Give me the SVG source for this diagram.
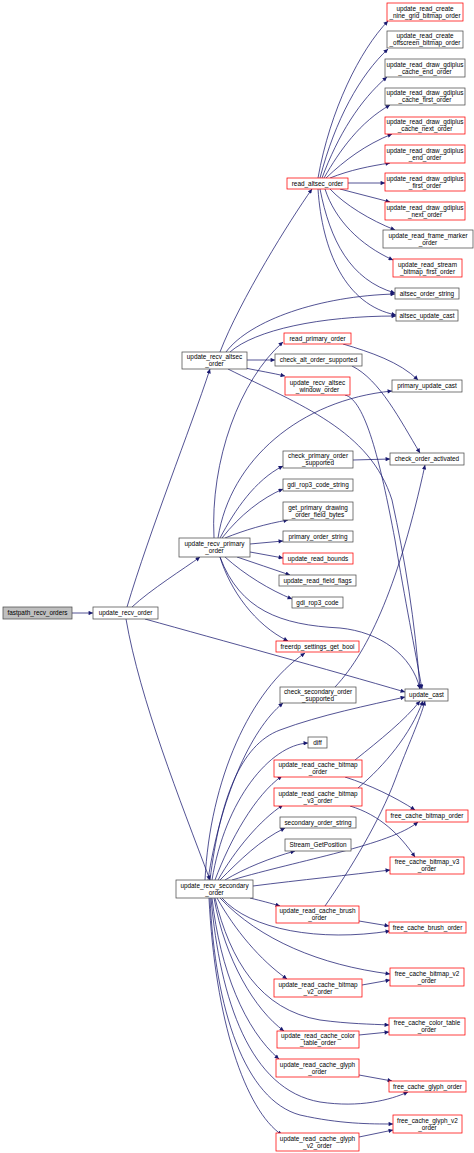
<svg xmlns="http://www.w3.org/2000/svg" width="474" height="1153" viewBox="0 0 474 1153">
<defs>
<marker id="a" viewBox="0 0 10 10" refX="10" refY="5" markerUnits="userSpaceOnUse" markerWidth="5.5" markerHeight="4.4" orient="auto">
<path d="M0,0 L10,5 L0,10 z" fill="#191970"/>
</marker>
<style>
.n rect{fill:#ffffff;stroke:#4d4d4d;stroke-width:0.75}
.r rect{stroke:#ff0000}
.root rect{fill:#bfbfbf}
text{font-family:"Liberation Sans",Arial,Helvetica,sans-serif;font-size:6.4px;text-anchor:middle;fill:#000}
#edges path{fill:none;stroke:#191970;stroke-width:0.75;marker-end:url(#a)}
</style>
</defs>
<rect x="0" y="0" width="474" height="1153" fill="#ffffff"/>
<g id="edges">
<path d="M72,613 L93,613"/>
<path d="M127,607 C150,530 190,430 210,369"/>
<path d="M132,607 C150,590 185,568 200,557"/>
<path d="M145,619 C220,640 330,670 405,692"/>
<path d="M126,619 C140,700 180,800 210,880"/>
<path d="M220,352 C240,300 290,220 312,189"/>
<path d="M226,352 C250,320 320,296 395,294"/>
<path d="M230,352 C255,330 320,316 396,316"/>
<path d="M247,360 L275,360"/>
<path d="M245,368 C260,371 272,373 285,376"/>
<path d="M228,369 C300,405 370,430 392,500 C405,560 415,620 420,689"/>
<path d="M318,178 C330,110 360,50 388,21"/>
<path d="M320,178 C335,120 360,75 388,49"/>
<path d="M322,178 C338,135 360,100 387,77"/>
<path d="M324,178 C340,150 360,122 390,105"/>
<path d="M326,178 C345,160 365,145 392,134"/>
<path d="M330,178 C350,170 370,166 390,163"/>
<path d="M348,183 L385,183"/>
<path d="M340,189 C355,193 375,198 390,202"/>
<path d="M330,189 C345,205 370,220 395,230"/>
<path d="M325,189 C335,220 360,245 393,260"/>
<path d="M320,189 C330,240 350,280 395,293"/>
<path d="M318,189 C322,250 345,305 396,315"/>
<path d="M343,344 C370,352 400,362 418,380"/>
<path d="M352,366 C380,380 400,420 420,453"/>
<path d="M345,395 C365,400 380,460 395,540 C405,600 415,650 422,689"/>
<path d="M214,538 C210,460 240,380 283,342"/>
<path d="M218,538 C230,460 300,400 392,391"/>
<path d="M220,538 C235,510 255,480 283,466"/>
<path d="M222,538 C240,515 262,498 283,489"/>
<path d="M225,538 C245,530 265,524 288,520"/>
<path d="M250,544 L283,541"/>
<path d="M250,552 L283,558"/>
<path d="M237,557 C255,563 272,569 290,575"/>
<path d="M225,557 C245,575 270,590 292,599"/>
<path d="M220,557 C230,590 255,625 288,641"/>
<path d="M220,557 C240,610 280,625 340,628 C380,632 412,655 420,689"/>
<path d="M353,460 L390,459"/>
<path d="M335,687 C370,650 400,580 425,465"/>
<path d="M205,880 C210,780 250,690 305,653"/>
<path d="M208,880 C220,800 250,730 283,703"/>
<path d="M210,880 C220,800 240,745 280,730 C320,715 370,705 405,697"/>
<path d="M212,880 C225,800 270,745 308,743"/>
<path d="M215,880 C230,840 255,795 282,776"/>
<path d="M218,880 C235,850 260,820 283,805"/>
<path d="M220,880 C240,860 260,840 285,828"/>
<path d="M225,880 C245,868 270,858 295,851"/>
<path d="M232,880 C300,860 390,845 418,822"/>
<path d="M253,886 C300,880 350,875 390,870"/>
<path d="M250,898 C262,901 270,903 280,906"/>
<path d="M222,898 C250,930 320,942 390,931"/>
<path d="M220,898 C260,940 320,965 390,974"/>
<path d="M217,898 C235,930 260,960 287,979"/>
<path d="M215,898 C230,960 260,1010 320,1020 C350,1024 370,1024 389,1025"/>
<path d="M214,898 C225,960 255,1010 284,1031"/>
<path d="M212,898 C220,970 245,1030 279,1059"/>
<path d="M211,898 C220,1000 250,1090 320,1102 C360,1108 390,1100 408,1092"/>
<path d="M210,898 C215,1010 245,1100 300,1115 C340,1124 370,1124 393,1124"/>
<path d="M209,898 C215,1020 245,1110 282,1135"/>
<path d="M355,760 C380,740 405,720 420,701"/>
<path d="M345,777 C370,785 395,797 415,810"/>
<path d="M358,788 C385,765 410,735 423,701"/>
<path d="M350,806 C380,815 400,835 415,857"/>
<path d="M325,906 C350,870 380,820 395,780 C408,745 420,720 425,701"/>
<path d="M359,921 L389,926"/>
<path d="M362,985 L390,980"/>
<path d="M359,1035 L389,1032"/>
<path d="M359,1075 L392,1081"/>
<path d="M359,1137 L393,1130"/>
</g>
<g id="fastpath_recv_orders" class="n root"><rect x="3" y="607" width="69" height="12"/><text x="37.5" y="615.3">fastpath_recv_orders</text></g>
<g id="update_recv_order" class="n"><rect x="93" y="607" width="65" height="12"/><text x="125.5" y="615.3">update_recv_order</text></g>
<g id="update_recv_altsec_order" class="n"><rect x="182" y="352" width="65" height="17"/><text x="214.5" y="359.3">update_recv_altsec</text><text x="214.5" y="366.2">_order</text></g>
<g id="update_recv_primary_order" class="n"><rect x="179" y="538" width="71" height="19"/><text x="214.5" y="546.3">update_recv_primary</text><text x="214.5" y="553.2">_order</text></g>
<g id="update_recv_secondary_order" class="n"><rect x="176" y="880" width="77" height="18"/><text x="214.5" y="887.8">update_recv_secondary</text><text x="214.5" y="894.7">_order</text></g>
<g id="read_altsec_order" class="n r"><rect x="287" y="178" width="61" height="11"/><text x="317.5" y="185.8">read_altsec_order</text></g>
<g id="update_read_create_nine_grid_bitmap_order" class="n r"><rect x="387" y="3" width="76" height="18"/><text x="425" y="10.8">update_read_create</text><text x="425" y="17.7">_nine_grid_bitmap_order</text></g>
<g id="update_read_create_offscreen_bitmap_order" class="n"><rect x="387" y="31" width="76" height="17"/><text x="425" y="38.3">update_read_create</text><text x="425" y="45.2">_offscreen_bitmap_order</text></g>
<g id="update_read_draw_gdiplus_cache_end_order" class="n"><rect x="385" y="59" width="80" height="18"/><text x="425" y="66.8">update_read_draw_gdiplus</text><text x="425" y="73.7">_cache_end_order</text></g>
<g id="update_read_draw_gdiplus_cache_first_order" class="n"><rect x="385" y="88" width="80" height="17"/><text x="425" y="95.3">update_read_draw_gdiplus</text><text x="425" y="102.2">_cache_first_order</text></g>
<g id="update_read_draw_gdiplus_cache_next_order" class="n r"><rect x="385" y="117" width="80" height="17"/><text x="425" y="124.3">update_read_draw_gdiplus</text><text x="425" y="131.2">_cache_next_order</text></g>
<g id="update_read_draw_gdiplus_end_order" class="n r"><rect x="385" y="145" width="80" height="18"/><text x="425" y="152.8">update_read_draw_gdiplus</text><text x="425" y="159.7">_end_order</text></g>
<g id="update_read_draw_gdiplus_first_order" class="n r"><rect x="385" y="173" width="80" height="18"/><text x="425" y="180.8">update_read_draw_gdiplus</text><text x="425" y="187.7">_first_order</text></g>
<g id="update_read_draw_gdiplus_next_order" class="n r"><rect x="385" y="202" width="80" height="18"/><text x="425" y="209.8">update_read_draw_gdiplus</text><text x="425" y="216.7">_next_order</text></g>
<g id="update_read_frame_marker_order" class="n"><rect x="383" y="230" width="90" height="18"/><text x="428" y="237.8">update_read_frame_marker</text><text x="428" y="244.7">_order</text></g>
<g id="update_read_stream_bitmap_first_order" class="n r"><rect x="393" y="259" width="69" height="18"/><text x="427.5" y="266.8">update_read_stream</text><text x="427.5" y="273.7">_bitmap_first_order</text></g>
<g id="altsec_order_string" class="n"><rect x="395" y="288" width="64" height="11"/><text x="427" y="295.8">altsec_order_string</text></g>
<g id="altsec_update_cast" class="n"><rect x="396" y="310" width="62" height="11"/><text x="427" y="317.8">altsec_update_cast</text></g>
<g id="read_primary_order" class="n r"><rect x="284" y="333" width="67" height="11"/><text x="317.5" y="340.8">read_primary_order</text></g>
<g id="check_alt_order_supported" class="n"><rect x="275" y="354" width="87" height="12"/><text x="318.5" y="362.3">check_alt_order_supported</text></g>
<g id="update_recv_altsec_window_order" class="n r"><rect x="285" y="377" width="65" height="18"/><text x="317.5" y="384.8">update_recv_altsec</text><text x="317.5" y="391.7">_window_order</text></g>
<g id="primary_update_cast" class="n"><rect x="392" y="380" width="70" height="12"/><text x="427" y="388.3">primary_update_cast</text></g>
<g id="check_primary_order_supported" class="n"><rect x="283" y="451" width="70" height="17"/><text x="318" y="458.3">check_primary_order</text><text x="318" y="465.2">_supported</text></g>
<g id="check_order_activated" class="n"><rect x="390" y="453" width="74" height="12"/><text x="427" y="461.3">check_order_activated</text></g>
<g id="gdi_rop3_code_string" class="n"><rect x="283" y="479" width="70" height="12"/><text x="318" y="487.3">gdi_rop3_code_string</text></g>
<g id="get_primary_drawing_order_field_bytes" class="n"><rect x="283" y="502" width="70" height="18"/><text x="318" y="509.8">get_primary_drawing</text><text x="318" y="516.7">_order_field_bytes</text></g>
<g id="primary_order_string" class="n"><rect x="283" y="531" width="70" height="11"/><text x="318" y="538.8">primary_order_string</text></g>
<g id="update_read_bounds" class="n r"><rect x="283" y="553" width="70" height="11"/><text x="318" y="560.8">update_read_bounds</text></g>
<g id="update_read_field_flags" class="n"><rect x="279" y="575" width="77" height="11"/><text x="317.5" y="582.8">update_read_field_flags</text></g>
<g id="gdi_rop3_code" class="n"><rect x="292" y="597" width="51" height="11"/><text x="317.5" y="604.8">gdi_rop3_code</text></g>
<g id="freerdp_settings_get_bool" class="n r"><rect x="276" y="641" width="83" height="11"/><text x="317.5" y="648.8">freerdp_settings_get_bool</text></g>
<g id="check_secondary_order_supported" class="n"><rect x="280" y="687" width="76" height="16"/><text x="318" y="693.8">check_secondary_order</text><text x="318" y="700.7">_supported</text></g>
<g id="update_cast" class="n"><rect x="405" y="689" width="43" height="12"/><text x="426.5" y="697.3">update_cast</text></g>
<g id="diff" class="n"><rect x="308" y="737" width="19" height="11"/><text x="317.5" y="744.8">diff</text></g>
<g id="update_read_cache_bitmap_order" class="n r"><rect x="274" y="760" width="88" height="17"/><text x="318" y="767.3">update_read_cache_bitmap</text><text x="318" y="774.2">_order</text></g>
<g id="update_read_cache_bitmap_v3_order" class="n r"><rect x="274" y="788" width="88" height="18"/><text x="318" y="795.8">update_read_cache_bitmap</text><text x="318" y="802.7">_v3_order</text></g>
<g id="free_cache_bitmap_order" class="n r"><rect x="386" y="810" width="82" height="12"/><text x="427" y="818.3">free_cache_bitmap_order</text></g>
<g id="secondary_order_string" class="n"><rect x="280" y="817" width="76" height="11"/><text x="318" y="824.8">secondary_order_string</text></g>
<g id="Stream_GetPosition" class="n"><rect x="285" y="839" width="66" height="12"/><text x="318" y="847.3">Stream_GetPosition</text></g>
<g id="free_cache_bitmap_v3_order" class="n r"><rect x="390" y="857" width="74" height="17"/><text x="427" y="864.3">free_cache_bitmap_v3</text><text x="427" y="871.2">_order</text></g>
<g id="update_read_cache_brush_order" class="n r"><rect x="276" y="906" width="83" height="17"/><text x="317.5" y="913.3">update_read_cache_brush</text><text x="317.5" y="920.2">_order</text></g>
<g id="free_cache_brush_order" class="n r"><rect x="389" y="922" width="77" height="11"/><text x="427.5" y="929.8">free_cache_brush_order</text></g>
<g id="free_cache_bitmap_v2_order" class="n r"><rect x="390" y="968" width="74" height="18"/><text x="427" y="975.8">free_cache_bitmap_v2</text><text x="427" y="982.7">_order</text></g>
<g id="update_read_cache_bitmap_v2_order" class="n r"><rect x="274" y="979" width="88" height="18"/><text x="318" y="986.8">update_read_cache_bitmap</text><text x="318" y="993.7">_v2_order</text></g>
<g id="free_cache_color_table_order" class="n r"><rect x="389" y="1018" width="76" height="17"/><text x="427" y="1025.3">free_cache_color_table</text><text x="427" y="1032.2">_order</text></g>
<g id="update_read_cache_color_table_order" class="n r"><rect x="277" y="1031" width="82" height="17"/><text x="318" y="1038.3">update_read_cache_color</text><text x="318" y="1045.2">_table_order</text></g>
<g id="update_read_cache_glyph_order" class="n r"><rect x="276" y="1059" width="83" height="18"/><text x="317.5" y="1066.8">update_read_cache_glyph</text><text x="317.5" y="1073.7">_order</text></g>
<g id="free_cache_glyph_order" class="n r"><rect x="389" y="1081" width="77" height="11"/><text x="427.5" y="1088.8">free_cache_glyph_order</text></g>
<g id="free_cache_glyph_v2_order" class="n r"><rect x="393" y="1115" width="69" height="18"/><text x="427.5" y="1122.8">free_cache_glyph_v2</text><text x="427.5" y="1129.7">_order</text></g>
<g id="update_read_cache_glyph_v2_order" class="n r"><rect x="276" y="1133" width="83" height="18"/><text x="317.5" y="1140.8">update_read_cache_glyph</text><text x="317.5" y="1147.7">_v2_order</text></g>
</svg>
